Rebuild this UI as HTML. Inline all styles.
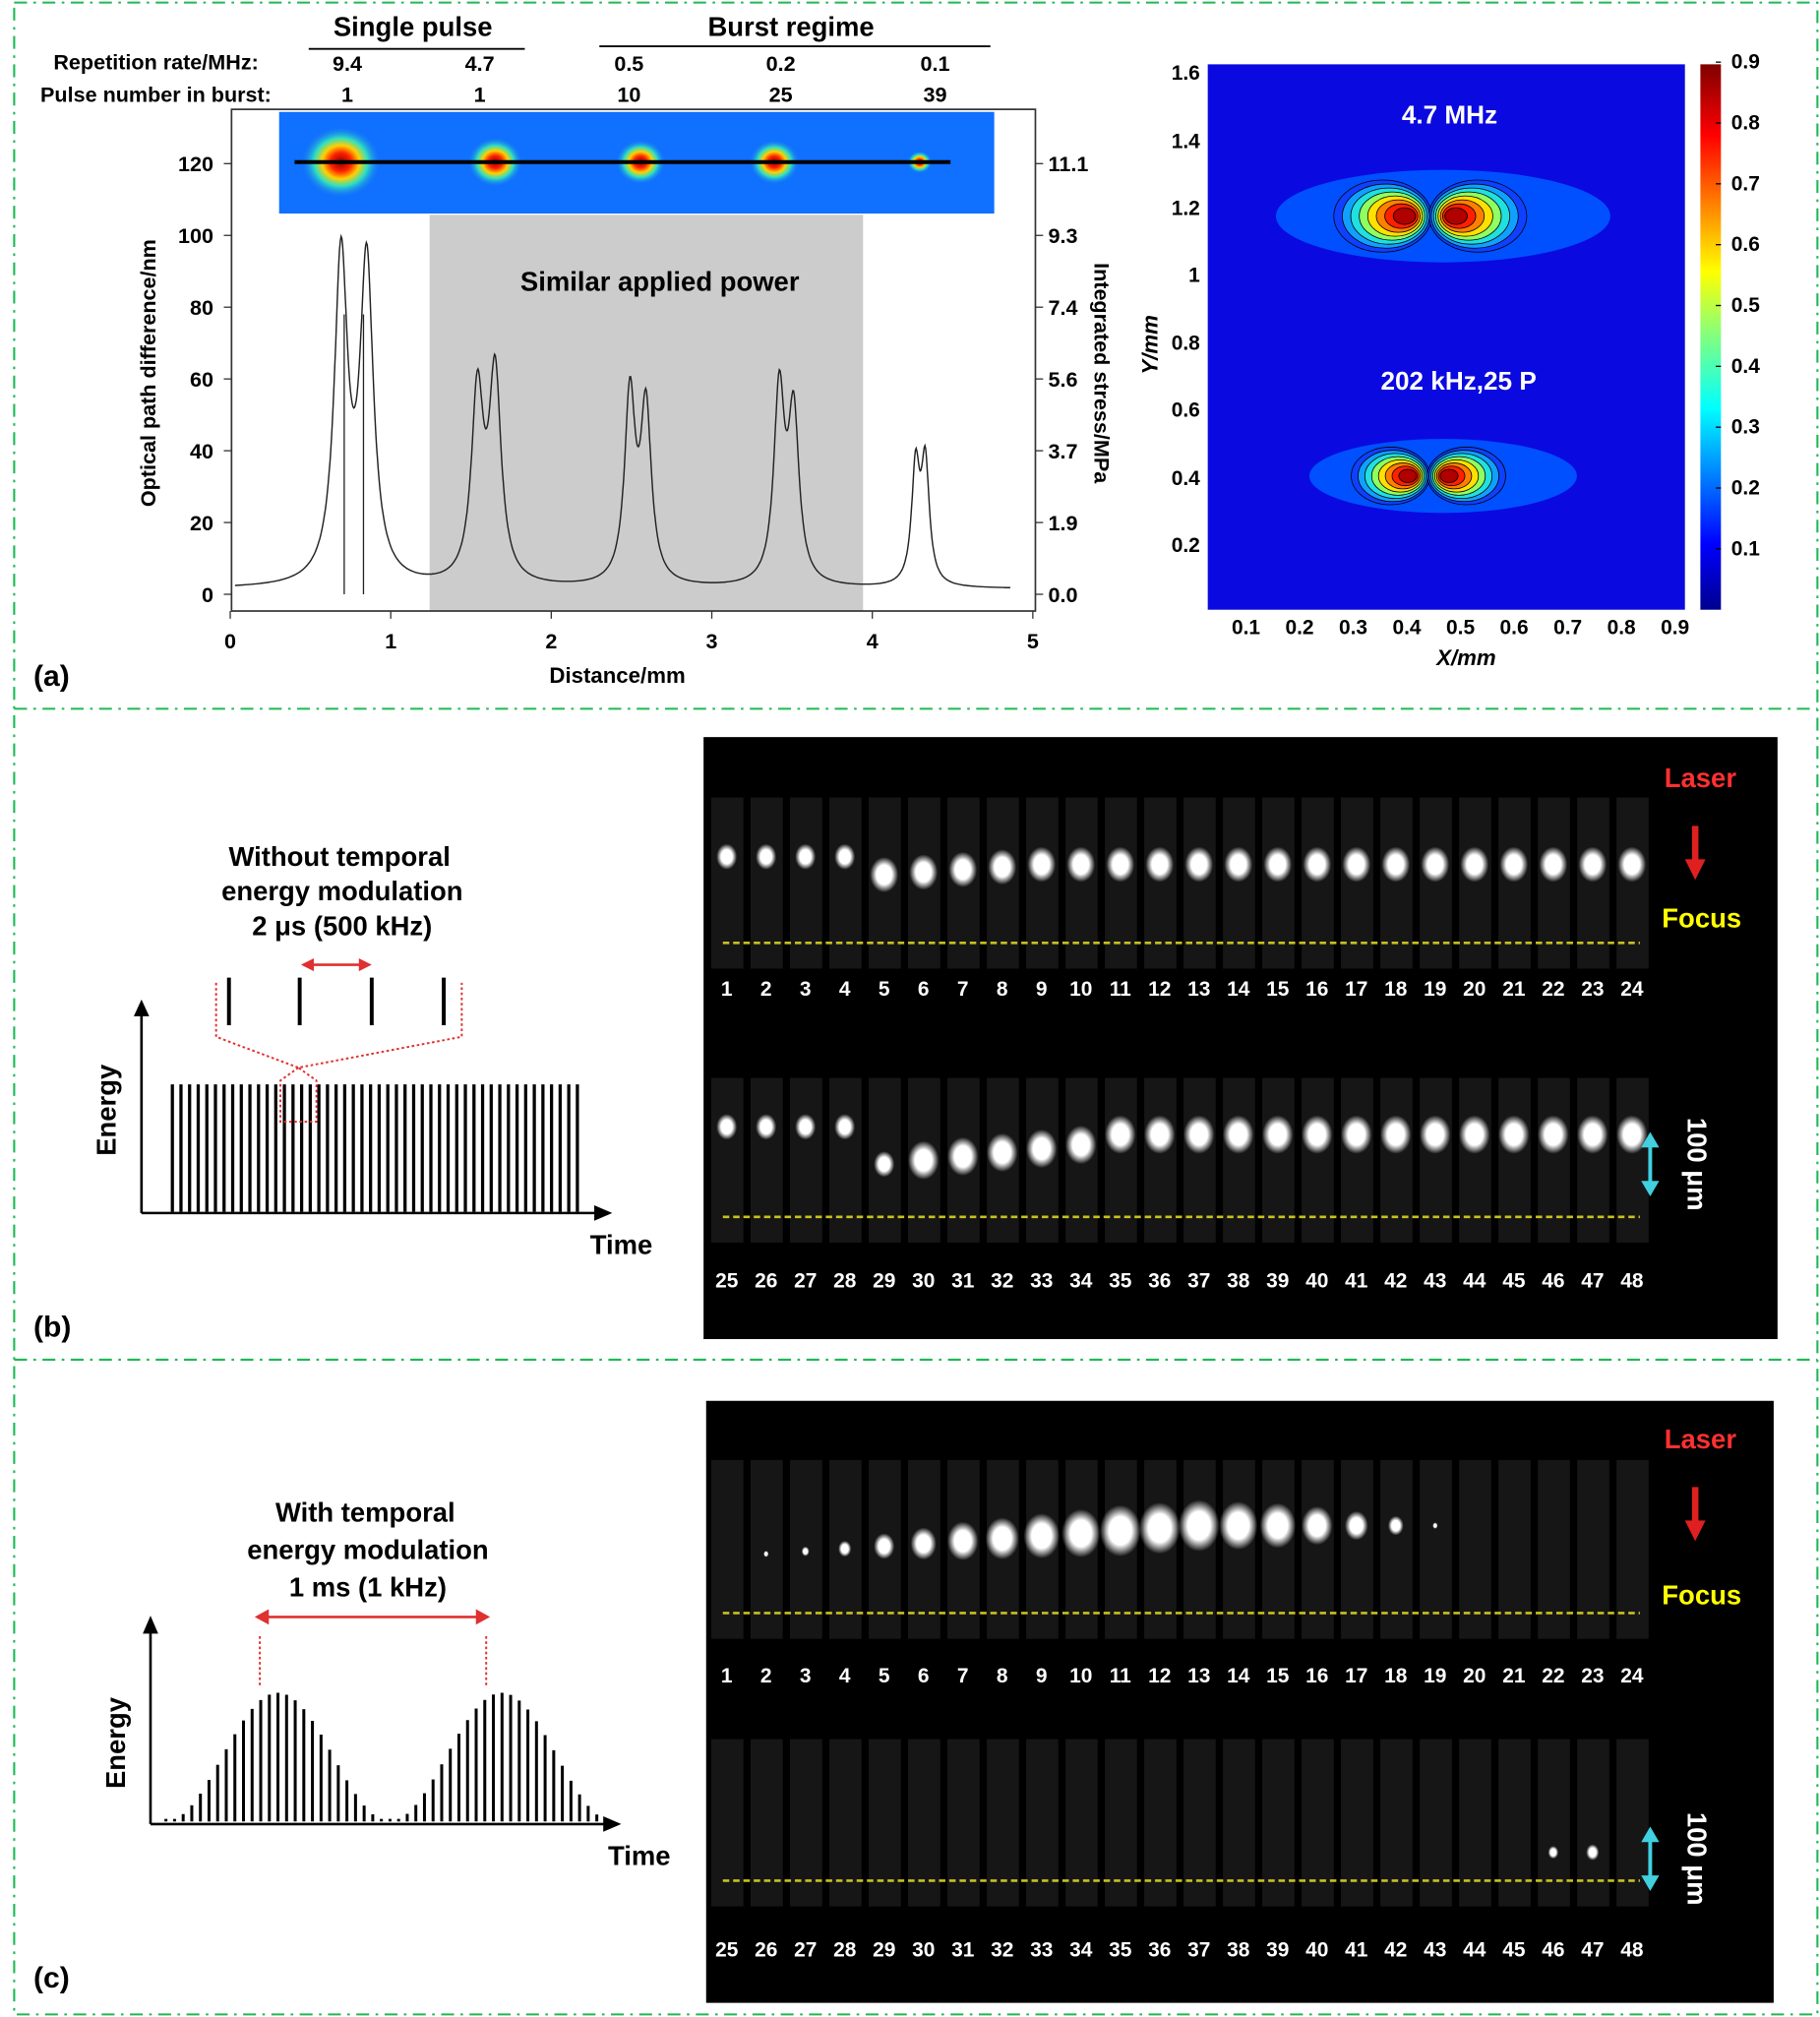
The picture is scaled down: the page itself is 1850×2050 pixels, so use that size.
<!DOCTYPE html>
<html><head><meta charset="utf-8"><style>
html,body{margin:0;padding:0;background:#fff}
svg{display:block}
text{font-family:"Liberation Sans",Arial,sans-serif;font-weight:bold}
</style></head><body>
<svg id="s" width="1850" height="2050" viewBox="0 0 1415 1568" xmlns="http://www.w3.org/2000/svg">
<defs>
<radialGradient id="hot" cx="50%" cy="50%" r="50%">
<stop offset="0" stop-color="#8b0000"/><stop offset="0.25" stop-color="#ff2000"/><stop offset="0.45" stop-color="#ffd000"/><stop offset="0.65" stop-color="#30e0c0"/><stop offset="1" stop-color="#1060ff" stop-opacity="0"/>
</radialGradient>
<radialGradient id="blob" cx="50%" cy="50%" r="50%">
<stop offset="0" stop-color="#fff"/><stop offset="0.55" stop-color="#fff"/><stop offset="1" stop-color="#fff" stop-opacity="0"/>
</radialGradient>
<linearGradient id="cbar" x1="0" y1="1" x2="0" y2="0">
<stop offset="0" stop-color="#00008f"/><stop offset="0.12" stop-color="#0000ff"/><stop offset="0.37" stop-color="#00ffff"/><stop offset="0.5" stop-color="#80ff80"/><stop offset="0.62" stop-color="#ffff00"/><stop offset="0.87" stop-color="#ff0000"/><stop offset="1" stop-color="#800000"/>
</linearGradient>
</defs>
<g fill="none" stroke="#1db954" stroke-width="1.6" stroke-dasharray="10,5,2,5">
<rect x="11" y="2" width="1402" height="1564"/>
<line x1="11" y1="551" x2="1413" y2="551"/>
<line x1="11" y1="1057" x2="1413" y2="1057"/>
</g>
<text x="321" y="28" font-size="21" text-anchor="middle">Single pulse</text>
<text x="615" y="28" font-size="21" text-anchor="middle">Burst regime</text>
<line x1="240" y1="38" x2="408" y2="38" stroke="#000" stroke-width="1.5"/>
<line x1="466" y1="36" x2="770" y2="36" stroke="#000" stroke-width="1.5"/>
<text x="201" y="54" font-size="16.5" text-anchor="end">Repetition rate/MHz:</text>
<text x="211" y="79" font-size="16.5" text-anchor="end">Pulse number in burst:</text>
<g font-size="16.5" text-anchor="middle">
<text x="270" y="55">9.4</text><text x="373" y="55">4.7</text><text x="489" y="55">0.5</text><text x="607" y="55">0.2</text><text x="727" y="55">0.1</text>
<text x="270" y="79">1</text><text x="373" y="79">1</text><text x="489" y="79">10</text><text x="607" y="79">25</text><text x="727" y="79">39</text>
</g>
<rect x="334" y="167" width="337" height="308" fill="#cccccc"/>
<rect x="217" y="87" width="556" height="79" fill="#1070ff"/>
<g id="strip"></g>
<line x1="229" y1="126" x2="739" y2="126" stroke="#000" stroke-width="3"/>
<rect x="180" y="85" width="625" height="390" fill="none" stroke="#333" stroke-width="1.3"/>
<path id="curve" fill="none" stroke="#222" stroke-width="1.1"/>
<g id="axA" font-size="16.5"></g>
<text x="480" y="531" font-size="17" text-anchor="middle">Distance/mm</text>
<text x="513" y="226" font-size="21" text-anchor="middle">Similar applied power</text>
<text transform="translate(121,290) rotate(-90)" font-size="16.5" text-anchor="middle">Optical path difference/nm</text>
<text transform="translate(851,290) rotate(90)" font-size="16.5" text-anchor="middle">Integrated stress/MPa</text>
<text x="26" y="533" font-size="23">(a)</text>
<rect x="939" y="50" width="371" height="424" fill="#0a0ae0"/>
<g id="cont"></g>
<text x="1127" y="96" font-size="20" fill="#fff" text-anchor="middle">4.7 MHz</text>
<text x="1134" y="303" font-size="20" fill="#fff" text-anchor="middle">202 kHz,25 P</text>
<rect x="1322" y="50" width="16" height="424" fill="url(#cbar)"/>
<g id="axB" font-size="16"></g>
<text x="1140" y="517" font-size="17" text-anchor="middle" font-style="italic">X/mm</text>
<text transform="translate(900,268) rotate(-90)" font-size="17" text-anchor="middle" font-style="italic">Y/mm</text>
<text x="264" y="673" font-size="21" text-anchor="middle">Without temporal</text>
<text x="266" y="700" font-size="21" text-anchor="middle">energy modulation</text>
<text x="266" y="727" font-size="21" text-anchor="middle">2 μs (500 kHz)</text>
<g id="pb"></g>
<text transform="translate(90,863) rotate(-90)" font-size="21" text-anchor="middle">Energy</text>
<text x="483" y="975" font-size="21" text-anchor="middle">Time</text>
<text x="26" y="1039" font-size="23">(b)</text>
<rect x="547" y="573" width="835" height="468" fill="#000"/>
<g id="fb"></g>
<text x="284" y="1183" font-size="21" text-anchor="middle">With temporal</text>
<text x="286" y="1212" font-size="21" text-anchor="middle">energy modulation</text>
<text x="286" y="1241" font-size="21" text-anchor="middle">1 ms (1 kHz)</text>
<g id="pc"></g>
<text transform="translate(97,1355) rotate(-90)" font-size="21" text-anchor="middle">Energy</text>
<text x="497" y="1450" font-size="21" text-anchor="middle">Time</text>
<text x="26" y="1545" font-size="23">(c)</text>
<rect x="549" y="1089" width="830" height="468" fill="#000"/>
<g id="fc"></g>
</svg>
<script>
const NS="http://www.w3.org/2000/svg";
function el(p,t,a,txt){const e=document.createElementNS(NS,t);for(const k in a)e.setAttribute(k,a[k]);if(txt!==undefined)e.textContent=txt;document.getElementById(p).appendChild(e);return e;}
const X=m=>179+m*124.8, Y=v=>462-v*2.79;
const pk=[[0.69,90,0.05],[0.85,88,0.05],[1.54,52,0.045],[1.65,57,0.045],[2.49,52,0.04],[2.59,48,0.04],[3.42,53,0.04],[3.51,46,0.04],[4.27,32,0.03],[4.33,33,0.03]];
let d="";
for(let i=0;i<=980;i++){const m=0.03+i*4.83/980;let v=1.5;for(const[p,a,w] of pk){v+=a*w*w/((m-p)**2+w*w);}v=Math.min(v,100);
 d+=(i?"L":"M")+X(m).toFixed(1)+" "+Y(v).toFixed(1);}
document.getElementById("curve").setAttribute("d",d);
for(const[m,a] of [[0.71,78],[0.83,78]]){el("axA","line",{x1:X(m),y1:Y(a),x2:X(m),y2:Y(0),stroke:"#222","stroke-width":1});}
for(let i=0;i<=5;i++){el("axA","line",{x1:X(i),y1:475,x2:X(i),y2:481,stroke:"#333"});el("axA","text",{x:X(i),y:504,"text-anchor":"middle"},i);}
const rl=["0.0","1.9","3.7","5.6","7.4","9.3","11.1"];
for(let i=0;i<=6;i++){const y=Y(i*20);el("axA","line",{x1:174,y1:y,x2:180,y2:y,stroke:"#333"});el("axA","text",{x:166,y:y+6,"text-anchor":"end"},String(i*20));
 el("axA","line",{x1:805,y1:y,x2:811,y2:y,stroke:"#333"});el("axA","text",{x:815,y:y+6},rl[i]);}
[[265,32],[385,22],[498,20],[602,20],[715,10]].forEach(([x,r])=>el("strip","ellipse",{cx:x,cy:126,rx:r,ry:r*0.9,fill:"url(#hot)"}));
function contour(cx,cy,s){const cols=["#1040ff","#10a0ff","#20e0e0","#90ff60","#ffe000","#ff8000","#ff2000","#b00000"];
 el("cont","ellipse",{cx:cx+17,cy,rx:130*s,ry:36*s,fill:"#0050ff"});
 for(let i=0;i<cols.length;i++){const k=1-i*0.11;el("cont","ellipse",{cx:cx-8*s-22*s*k,cy,rx:38*s*k,ry:28*s*k,fill:cols[i],stroke:"#000","stroke-width":0.6});el("cont","ellipse",{cx:cx-8*s+22*s*k+30*s,cy,rx:38*s*k,ry:28*s*k,fill:cols[i],stroke:"#000","stroke-width":0.6});}
}
contour(1105,168,1);contour(1105,370,0.8);
for(let i=1;i<=9;i++){const x=939+i*41.7-24;el("axB","text",{x:x+12,y:493,"text-anchor":"middle"},"0."+i);}
[["1.6",57],["1.4",110],["1.2",162],["1",214],["0.8",267],["0.6",319],["0.4",372],["0.2",424]].forEach(([v,y])=>el("axB","text",{x:933,y:y+5,"text-anchor":"end"},v));
for(let i=1;i<=9;i++){const y=474-i*47.3;el("axB","text",{x:1346,y:y+5},"0."+i);el("axB","line",{x1:1334,y1:y,x2:1338,y2:y,stroke:"#000"});}
const ar=(p,x1,y1,x2,y2)=>el(p,"line",{x1,y1,x2,y2,stroke:"#000","stroke-width":2});
ar("pb",110,943,110,785);el("pb","path",{d:"M104 790 L110 777 L116 790Z"});ar("pb",110,943,465,943);el("pb","path",{d:"M462 937 L476 943 L462 949Z"});
for(let i=0;i<48;i++){const x=134+i*6.7;el("pb","line",{x1:x,y1:942,x2:x,y2:843,stroke:"#000","stroke-width":2.5});}
[178,233,289,345].forEach(x=>el("pb","line",{x1:x,y1:760,x2:x,y2:797,stroke:"#000","stroke-width":3}));
el("pb","path",{d:"M168 764 L168 806 L232 830 L359 806 L359 764 M232 830 L218 840 L218 872 L246 872 L246 840 L232 830",fill:"none",stroke:"#e03030","stroke-width":1.5,"stroke-dasharray":"2,2"});
el("pb","line",{x1:240,y1:750,x2:283,y2:750,stroke:"#e03030","stroke-width":2});
el("pb","path",{d:"M234 750 L244 745 L244 755Z M289 750 L279 745 L279 755Z",fill:"#e03030"});
ar("pc",117,1418,117,1265);el("pc","path",{d:"M111 1270 L117 1256 L123 1270Z"});ar("pc",117,1418,472,1418);el("pc","path",{d:"M469 1412 L483 1418 L469 1424Z"});
for(let i=0;i<52;i++){const x=129+i*6.7;const h=Math.max(2,100*Math.pow(Math.sin(Math.PI*((x-129)/174)),2));el("pc","line",{x1:x,y1:1416,x2:x,y2:1416-h,stroke:"#000","stroke-width":2.3});}
el("pc","line",{x1:202,y1:1272,x2:202,y2:1312,stroke:"#e03030","stroke-width":1.5,"stroke-dasharray":"2,2"});
el("pc","line",{x1:378,y1:1272,x2:378,y2:1312,stroke:"#e03030","stroke-width":1.5,"stroke-dasharray":"2,2"});
el("pc","line",{x1:205,y1:1257,x2:374,y2:1257,stroke:"#e03030","stroke-width":2});
el("pc","path",{d:"M198 1257 L209 1251 L209 1263Z M381 1257 L370 1251 L370 1263Z",fill:"#e03030"});
function frames(p,x0,y0,labY,nums,sizes,lineY){
 for(let i=0;i<24;i++){const x=x0+i*30.6;el(p,"rect",{x:x-12,y:y0,width:25,height:lineY-y0+20,fill:"#161616"});
  const s=sizes(i);if(s[0]>0){el(p,"ellipse",{cx:x,cy:s[1],rx:s[0],ry:s[0]*1.25,fill:"url(#blob)"});}
  el(p,"text",{x:x,y:labY,fill:"#fff","font-size":16,"text-anchor":"middle"},String(nums+i));}
 el(p,"line",{x1:x0-3,y1:lineY,x2:x0+710,y2:lineY,stroke:"#c8c020","stroke-width":2,"stroke-dasharray":"5,3"});
}
frames("fb",565,620,774,1,i=>[i<4?8:11,i<4?666:i<8?688-i*2:672],733);
frames("fb",565,838,1001,25,i=>[i<5?8:12,i<4?876:i<10?905-(i-4)*3:882],946);
frames("fc",565,1135,1308,1,i=>[[0,2,3,5,8,10,12,13,14,15,16,16,16,15,14,12,9,6,2,0,0,0,0,0][i],1210-Math.min(i,12)*2],1254);
frames("fc",565,1352,1521,25,i=>[i==21?4:i==22?5:0,1440],1462);
[["fb",1322,612,714,900],["fc",1322,1126,1240,1440]].forEach(([p,x,ly,fy,uy])=>{
 el(p,"text",{x:x,y:ly,fill:"#ff3030","font-size":21,"text-anchor":"middle"},"Laser");
 el(p,"text",{x:x+1,y:fy+7,fill:"#ffff00","font-size":21,"text-anchor":"middle"},"Focus");
 el(p,"line",{x1:x-4,y1:ly+30,x2:x-4,y2:ly+60,stroke:"#e02020","stroke-width":5});
 el(p,"path",{d:`M${x-12} ${ly+56} L${x-4} ${ly+72} L${x+4} ${ly+56}Z`,fill:"#e02020"});
 el(p,"line",{x1:1283,y1:uy-12,x2:1283,y2:uy+22,stroke:"#40d0e0","stroke-width":3});
 el(p,"path",{d:`M1276 ${uy-8} L1283 ${uy-20} L1290 ${uy-8}Z M1276 ${uy+18} L1283 ${uy+30} L1290 ${uy+18}Z`,fill:"#40d0e0"});
 el(p,"text",{transform:`translate(1312,${uy+5}) rotate(90)`,fill:"#fff","font-size":21,"text-anchor":"middle"},"100 μm");
});
</script>
</body></html>
